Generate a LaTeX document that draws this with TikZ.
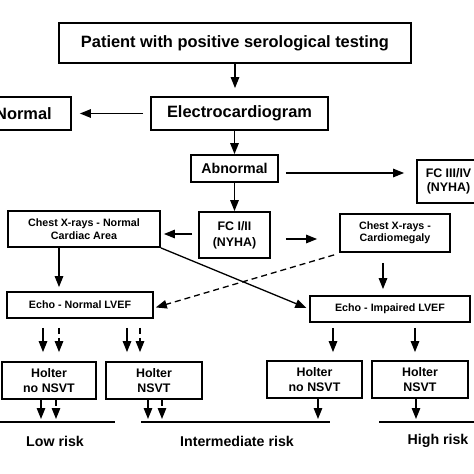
\documentclass[tikz,border=0pt]{standalone}
\usepackage{fontspec}
\setmainfont{Liberation Sans}
\usetikzlibrary{arrows.meta}

\begin{document}
\begin{tikzpicture}[x=1pt, y=-1pt, line width=1.3pt,
  >={Triangle[length=11pt,width=8.5pt]},
  box/.style={draw, line width=1.8pt, align=center, inner sep=0pt},
  fbig/.style={font=\fontsize{16.4}{19}\selectfont\bfseries},
  fmid/.style={font=\fontsize{14.2}{16}\selectfont\bfseries},
  fsml/.style={font=\fontsize{12.4}{14.5}\selectfont\bfseries},
  ftny/.style={font=\fontsize{10.7}{12.4}\selectfont\bfseries},
  dsh/.style={dash pattern=on 6pt off 4pt}]
\useasboundingbox (0,0) rectangle (474,474);
\clip (0,0) rectangle (474,474);

\node[box, fbig, minimum width=352pt, minimum height=40pt] (patient) at (235,43) {Patient with positive serological testing};
\node[box, fbig, minimum width=177pt, minimum height=33pt] (ecg) at (239.5,113.5) {Electrocardiogram};
\node[box, fbig, minimum width=95pt, minimum height=33pt] (normal) at (23.5,113.5) {Normal};
\node[box, fmid, minimum width=87pt, minimum height=27pt] (abnormal) at (234.5,168.5) {Abnormal};
\node[box, fsml, minimum width=63pt, minimum height=43pt] (fcHigh) at (448.5,181.5) {FC III/IV\\(NYHA)};
\node[box, ftny, minimum width=152pt, minimum height=36pt] (chestN) at (84,229) {Chest X-rays - Normal\\Cardiac Area};
\node[box, fsml, font=\fontsize{12.4}{15.7}\selectfont\bfseries, minimum width=71pt, minimum height=46pt] (fcLow) at (234.5,235) {FC I/II\\(NYHA)};
\node[box, ftny, minimum width=110pt, minimum height=38pt] (chestC) at (395,233) {Chest X-rays -\\Cardiomegaly};
\node[box, ftny, minimum width=146pt, minimum height=26pt] (echoN) at (80,305) {Echo - Normal LVEF};
\node[box, ftny, minimum width=160pt, minimum height=26pt] (echoI) at (390,309) {Echo - Impaired LVEF};
\node[box, fsml, minimum width=94pt, minimum height=37pt] (holL1) at (49,380.5) {Holter\\no NSVT};
\node[box, fsml, minimum width=96pt, minimum height=37pt] (holN1) at (154,380.5) {Holter\\NSVT};
\node[box, fsml, minimum width=95pt, minimum height=37pt] (holL2) at (314.5,379.5) {Holter\\no NSVT};
\node[box, fsml, minimum width=96pt, minimum height=37pt] (holN2) at (420,379.5) {Holter\\NSVT};

\coordinate (lowA) at (0,422);   \coordinate (lowB) at (115,422);
\coordinate (midA) at (141,422); \coordinate (midB) at (330,422);
\coordinate (highA) at (379,422); \coordinate (highB) at (480,422);
\node[fmid] (low) at (55,441) {Low risk};
\node[fmid] (mid) at (237,441) {Intermediate risk};
\node[fmid] (high) at (438,441) {High risk};
\draw[line width=1.4pt] (lowA) -- (lowB) (midA) -- (midB) (highA) -- (highB);

\path[->]
  (patient.south) edge[shorten >=8pt] (patient.south |- ecg.north)
  (ecg.west) edge[shorten <=7pt, shorten >=8pt] (normal.east)
  (ecg.south -| abnormal.north) edge (abnormal.north)
  ([yshift=-4.5pt]abnormal.east) edge[shorten <=7pt, shorten >=12pt] ([yshift=-4.5pt]abnormal.east -| fcHigh.west)
  (abnormal.south) edge (fcLow.north)
  ([yshift=1pt]fcLow.west) edge[shorten <=6pt, shorten >=3pt] ([yshift=1pt]fcLow.west -| chestN.east)
  ([yshift=-4pt]fcLow.east) edge[shorten <=15pt, shorten >=22pt] ([yshift=-4pt]fcLow.east -| chestC.west)
  ([xshift=-25pt]chestN.south) edge[shorten >=4pt] ([xshift=-25pt]chestN.south |- echoN.north)
  (chestN.south east) edge[shorten >=3pt] (echoI.west)
  ([xshift=-12pt]chestC.south) edge[shorten <=10pt, shorten >=6pt] ([xshift=-12pt]chestC.south |- echoI.north)
  ([xshift=-5pt,yshift=-2pt]chestC.south west) edge[dsh, shorten >=2pt] ([yshift=-3pt]echoN.east)
  ([xshift=-37pt]echoN.south) edge[shorten <=9pt, shorten >=9pt] ([xshift=-37pt]echoN.south |- holL1.north)
  ([xshift=-21pt]echoN.south) edge[dsh, shorten <=9pt, shorten >=9pt] ([xshift=-21pt]echoN.south |- holL1.north)
  ([xshift=47pt]echoN.south) edge[shorten <=9pt, shorten >=9pt] ([xshift=47pt]echoN.south |- holN1.north)
  ([xshift=60pt]echoN.south) edge[dsh, shorten <=9pt, shorten >=9pt] ([xshift=60pt]echoN.south |- holN1.north)
  ([xshift=-57pt]echoI.south) edge[shorten <=5pt, shorten >=8pt] ([xshift=-57pt]echoI.south |- holL2.north)
  ([xshift=25pt]echoI.south) edge[shorten <=5pt, shorten >=8pt] ([xshift=25pt]echoI.south |- holN2.north)
  ([xshift=-8pt]holL1.south) edge[shorten >=3pt] ([xshift=-8pt]holL1.south |- lowA)
  ([xshift=7pt]holL1.south) edge[dsh, shorten >=3pt] ([xshift=7pt]holL1.south |- lowA)
  ([xshift=-6pt]holN1.south) edge[shorten >=3pt] ([xshift=-6pt]holN1.south |- midA)
  ([xshift=8pt]holN1.south) edge[dsh, shorten >=3pt] ([xshift=8pt]holN1.south |- midA)
  ([xshift=3.5pt]holL2.south) edge[shorten >=3pt] ([xshift=3.5pt]holL2.south |- midA)
  ([xshift=-4pt]holN2.south) edge[shorten >=3pt] ([xshift=-4pt]holN2.south |- highA)
;
\end{tikzpicture}
\end{document}
